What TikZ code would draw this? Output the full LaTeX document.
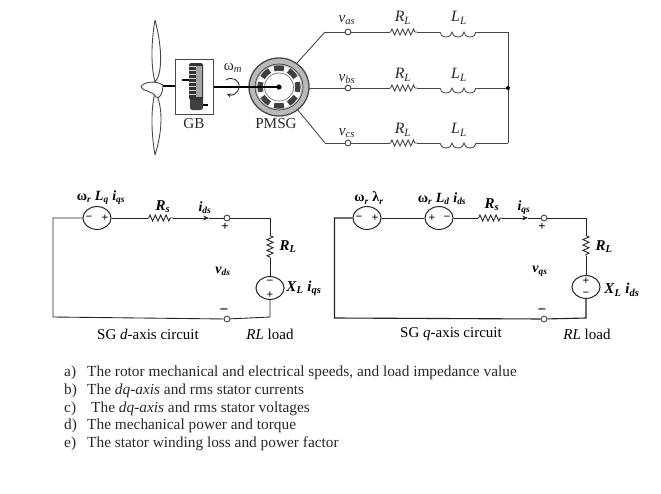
\documentclass[tikz,border=0pt]{standalone}
\usepackage{fontspec}
\setmainfont{Liberation Serif}
\usepackage{xcolor}
\definecolor{wireone}{RGB}{70, 70, 70}
\definecolor{wiretwo}{RGB}{35, 35, 35}
\definecolor{inktext}{RGB}{40, 40, 40}
\definecolor{ringgray}{RGB}{185, 185, 185}
\usetikzlibrary{decorations.pathmorphing,arrows.meta,shapes.geometric}
\newcommand{\vlab}[2]{\textit{#1}\textsubscript{\textit{#2}}}
\newcommand{\blab}[2]{\textbf{\textit{#1}\textsubscript{\textit{#2}}}}
\tikzset{
    wire/.style={draw=wireone, line width=0.75pt},
    wirebold/.style={draw=wiretwo, line width=0.75pt},
    shaft/.style={draw=black, line width=1.3pt},
    terminal/.style={circle, draw=wireone, fill=white, line width=0.8pt, inner sep=0pt, minimum size=5pt},
    source/.style={ellipse, draw=wiretwo, fill=white, line width=0.85pt, inner sep=0pt, minimum width=24pt, minimum height=19.5pt},
    resistor/.style={decorate, decoration={zigzag, amplitude=2.6pt, segment length=4.6pt, pre length=0.5pt, post length=0.5pt}},
    toplabel/.style={text=inktext, font=\fontsize{13}{15}\selectfont, inner sep=0pt},
    cirlabel/.style={text=black, font=\fontsize{12}{14}\selectfont, inner sep=0pt},
    signlabel/.style={text=black, font=\bfseries\fontsize{10}{11}\selectfont, inner sep=0pt},
    caplabel/.style={text=black, font=\fontsize{12.8}{15}\selectfont, inner sep=0pt},
    listline/.style={text=inktext, font=\fontsize{13.1}{15}\selectfont, inner sep=0pt, anchor=base west},
    inductor/.pic={\draw[wire] (0,0) arc (180:0:6 and 5) arc (180:0:6 and 5) arc (180:0:6 and 5);},
}
\begin{document}
\begin{tikzpicture}[x=0.03cm, y=-0.03cm]
    \useasboundingbox (0,0) rectangle (661,493);
    % wind turbine
    \draw[shaft] (163,86) -- (176,86);
    \filldraw[draw=wireone, fill=white, line width=0.75pt] (155,20) .. controls (150,50) and (152,70) .. (155,82) .. controls (162,75) and (163,50) .. (155,20);
    \filldraw[draw=wireone, fill=white, line width=0.75pt] (155,155) .. controls (150,125) and (152,105) .. (155,92) .. controls (163,105) and (163,130) .. (155,155);
    \filldraw[draw=wireone, fill=white, line width=0.75pt] (141,87) .. controls (143,82) and (155,80) .. (163,85) .. controls (163,92) and (160,100) .. (156,97) .. controls (152,90) and (143,92) .. (141,87);
    % gear box
    \node[draw=wireone, line width=0.8pt, minimum width=33.2pt, minimum height=47.6pt, inner sep=0pt] (gb) at (194.5,87) {};
    \draw[shaft, line width=1.1pt] (182,80) -- (192,80);
    \draw[shaft, line width=1.1pt] (200,105) -- (208,105);
    \fill[black!75, rounded corners=2pt] (190,95) rectangle (203,110);
    \fill[black!80, rounded corners=2pt] (189,63) rectangle (203,100);
    \fill[black!35] (196,66) rectangle (202,97);
    \foreach \gy in {66,70,...,96}
        \draw[black!15, line width=0.3pt] (189,\gy) -- (196,\gy);
    \node[toplabel] (gblabel) at (194,124) {GB};
    % rotation and shaft
    \node[toplabel] (omegam) at (233,68) {ω\textsubscript{\textit{m}}};
    \draw[wiretwo, line width=0.7pt, -{Stealth[length=3.5pt,width=3.5pt]}] (226,80) .. controls (232,76) and (240,80) .. (239,87) .. controls (238,94) and (232,96) .. (227,94);
    % generator
    \filldraw[draw=wireone, fill=ringgray, line width=1.1pt] (279,87) circle (30 and 29);
    \draw[wireone, line width=0.6pt] (279,87) circle (24 and 23);
    \fill[white] (279,87) circle (22.5 and 21.5);
    \foreach \ga in {0,45,...,315}
        \draw[black!75, line width=4.6pt] (279,87) ++(\ga-15:19) arc (\ga-15:\ga+15:19);
    \draw[black!55, line width=0.6pt] (279,87) circle (14.5 and 14);
    \draw[shaft] (214,87) -- (279,87);
    \fill[black] (279,87) circle (2.6);
    \node[toplabel] (pmsglabel) at (276,123.5) {PMSG};
    % three phase load
    \coordinate (gena) at (297,63);
    \coordinate (genb) at (309,88);
    \coordinate (genc) at (297,109);
    \coordinate (benda) at (325,32);
    \coordinate (bendc) at (325,143);
    \foreach \ph/\py/\vy/\ry/\gen/\sub in {a/32/20/18/benda/as, b/88/79/75/genb/bs, c/143/133/130/bendc/cs}{
        \node[terminal] (t\ph) at (348,\py) {};
        \coordinate (ra\ph) at (390,\py);
        \coordinate (rb\ph) at (417,\py);
        \coordinate (la\ph) at (440,\py);
        \coordinate (lb\ph) at (476,\py);
        \coordinate (end\ph) at (508,\py);
        \node[toplabel] (v\ph) at (347,\vy) {\vlab{v}{\sub}};
        \node[toplabel, font=\fontsize{13.5}{15}\selectfont] (rl\ph) at (403,\ry) {\vlab{R}{L}};
        \node[toplabel, font=\fontsize{13.5}{15}\selectfont] (ll\ph) at (459,\ry) {\vlab{L}{L}};
        \draw[wire] (\gen) -- (t\ph);
        \draw[wire] (t\ph) -- (ra\ph);
        \draw[wire, resistor] (ra\ph) -- (rb\ph);
        \draw[wire] (rb\ph) -- (la\ph);
        \pic at (la\ph) {inductor};
        \draw[wire] (lb\ph) -- (end\ph);
    }
    \draw[wire] (gena) -- (benda);
    \draw[wire] (genc) -- (bendc);
    \draw[wire] (enda) -- (endc);
    \fill[black] (endb) circle (2);
    % d-axis circuit
    \begin{scope}
        \coordinate (dtl) at (53,218);
        \coordinate (dbl) at (53,317);
        \coordinate (dtr) at (270,218);
        \coordinate (dbr) at (270,317);
        \node[source] (dsrc) at (97,218) {};
        \node[signlabel] (dsrcm) at (89,218) {−};
        \node[signlabel] (dsrcp) at (105,218) {+};
        \coordinate (drsa) at (148,218);
        \coordinate (drsb) at (173,218);
        \node[terminal] (dtop) at (227,218) {};
        \node[terminal] (dbot) at (227,319) {};
        \coordinate (drla) at (270,235);
        \coordinate (drlb) at (270,258);
        \node[source] (dload) at (270,288) {};
        \node[signlabel] (dloadm) at (270,282) {−};
        \node[signlabel] (dloadp) at (270,295) {+};
        \draw[wirebold] (dsrc) -- (dtl) -- (dbl) -- (dbot) -- (dbr) -- (dload);
        \draw[wirebold] (dsrc) -- (drsa);
        \draw[wirebold, resistor] (drsa) -- (drsb);
        \draw[wirebold, -{Stealth[length=5pt,width=4pt]}] (drsb) -- (209,218);
        \draw[wirebold] (209,218) -- (dtop);
        \draw[wirebold] (dtop) -- (dtr) -- (drla);
        \draw[wirebold, resistor] (drla) -- (drlb);
        \draw[wirebold] (drlb) -- (dload);
        \node[cirlabel] (dsrclab) at (101,198) {\textbf{ω\textsubscript{\textit{r}} \textit{L}\textsubscript{\textit{q}} \textit{i}\textsubscript{\textit{qs}}}};
        \node[caplabel] (drslab) at (163,207) {\blab{R}{s}};
        \node[cirlabel] (didlab) at (205,208) {\blab{i}{ds}};
        \node[signlabel, font=\bfseries\fontsize{11}{12}\selectfont] (dplus) at (225,227) {+};
        \node[signlabel, font=\bfseries\fontsize{13}{14}\selectfont] (dminus) at (224,312) {−};
        \node[cirlabel] (dvlab) at (223,271) {\blab{v}{ds}};
        \node[caplabel] (drllab) at (288,247) {\blab{R}{L}};
        \node[caplabel] (dxlab) at (304,288) {\textbf{\textit{X}\textsubscript{\textit{L}} \textit{i}\textsubscript{\textit{qs}}}};
        \node[caplabel] (dsg) at (148,334.5) {SG \textit{d}-axis circuit};
        \node[caplabel] (drlload) at (270,334.5) {\textit{RL} load};
    \end{scope}
    % q-axis circuit
    \begin{scope}
        \coordinate (qtl) at (334.5,218);
        \coordinate (qbl) at (334.5,318);
        \coordinate (qtr) at (586,218);
        \coordinate (qbr) at (586,318);
        \node[source] (qsrca) at (367,218) {};
        \node[signlabel] (qsrcam) at (359,218) {−};
        \node[signlabel] (qsrcap) at (375,218) {+};
        \node[source] (qsrcb) at (439,218) {};
        \node[signlabel] (qsrcbp) at (432,218) {+};
        \node[signlabel] (qsrcbm) at (447,218) {−};
        \coordinate (qrsa) at (478,218);
        \coordinate (qrsb) at (502,218);
        \node[terminal] (qtop) at (544,218) {};
        \node[terminal] (qbot) at (544,319) {};
        \coordinate (qrla) at (586,235);
        \coordinate (qrlb) at (586,256);
        \node[source] (qload) at (586,287) {};
        \node[signlabel] (qloadp) at (586,281) {+};
        \node[signlabel] (qloadm) at (586,294) {−};
        \draw[wirebold, line width=0.95pt] (qsrca) -- (qtl) -- (qbl) -- (qbot) -- (qbr) -- (qload);
        \draw[wirebold] (qsrca) -- (qsrcb);
        \draw[wirebold] (qsrcb) -- (qrsa);
        \draw[wirebold, resistor] (qrsa) -- (qrsb);
        \draw[wirebold, -{Stealth[length=5pt,width=4pt]}] (qrsb) -- (528,218);
        \draw[wirebold] (528,218) -- (qtop);
        \draw[wirebold] (qtop) -- (qtr) -- (qrla);
        \draw[wirebold, resistor] (qrla) -- (qrlb);
        \draw[wirebold] (qrlb) -- (qload);
        \node[cirlabel] (qsrcalab) at (369,198) {\textbf{ω\textsubscript{\textit{r}} λ\textsubscript{\textit{r}}}};
        \node[cirlabel] (qsrcblab) at (442,199) {\textbf{ω\textsubscript{\textit{r}} \textit{L}\textsubscript{\textit{d}} \textit{i}\textsubscript{\textit{ds}}}};
        \node[caplabel] (qrslab) at (492,205) {\blab{R}{s}};
        \node[cirlabel] (qiqlab) at (524,208) {\blab{i}{qs}};
        \node[signlabel, font=\bfseries\fontsize{11}{12}\selectfont] (qplus) at (542,227) {+};
        \node[signlabel, font=\bfseries\fontsize{13}{14}\selectfont] (qminus) at (542,312) {−};
        \node[cirlabel] (qvlab) at (540,271) {\blab{v}{qs}};
        \node[caplabel] (qrllab) at (604,247) {\blab{R}{L}};
        \node[caplabel] (qxlab) at (622,290) {\textbf{\textit{X}\textsubscript{\textit{L}} \textit{i}\textsubscript{\textit{ds}}}};
        \node[caplabel] (qsg) at (451,334.5) {SG \textit{q}-axis  circuit};
        \node[caplabel] (qrlload) at (587,334.5) {\textit{RL} load};
    \end{scope}
    % question list
    \node[listline] (itema) at (64,376) {a)};
    \node[listline] (texta) at (87,376) {The rotor mechanical and electrical speeds, and load impedance value};
    \node[listline] (itemb) at (64,394) {b)};
    \node[listline] (textb) at (87,394) {The \textit{dq-axis} and rms stator currents};
    \node[listline] (itemc) at (64,412) {c)};
    \node[listline] (textc) at (91,412) {The \textit{dq-axis} and rms stator voltages};
    \node[listline] (itemd) at (64,429) {d)};
    \node[listline] (textd) at (87,429) {The mechanical power and torque};
    \node[listline] (iteme) at (64,447) {e)};
    \node[listline] (texte) at (87,447) {The stator winding loss and power factor};
\end{tikzpicture}
\end{document}
